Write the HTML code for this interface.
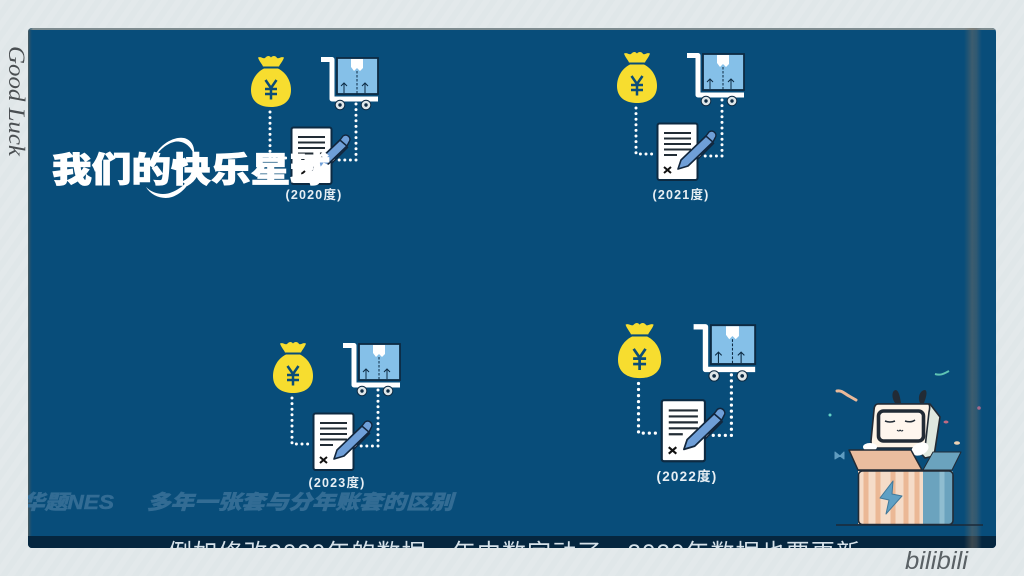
<!DOCTYPE html>
<html><head><meta charset="utf-8"><style>
html,body{margin:0;padding:0;width:1024px;height:576px;overflow:hidden;background:#e1e8ea}
svg{display:block;position:absolute;left:0;top:0}
text{font-family:"Liberation Sans","Noto Sans CJK SC",sans-serif}
</style></head><body>
<svg width="1024" height="576" viewBox="0 0 1024 576" xmlns="http://www.w3.org/2000/svg">
<defs>
<pattern id="tex" width="12" height="12" patternUnits="userSpaceOnUse" patternTransform="rotate(35)">
<rect width="12" height="12" fill="#e0e7e9"/><rect width="6" height="12" fill="#e3e9eb"/>
</pattern>
<linearGradient id="band" x1="0" x2="1" y1="0" y2="0">
<stop offset="0" stop-color="#7a6a58" stop-opacity="0"/><stop offset=".45" stop-color="#7d7060" stop-opacity=".45"/><stop offset=".7" stop-color="#6b6a66" stop-opacity=".4"/><stop offset="1" stop-color="#5a6b78" stop-opacity="0"/>
</linearGradient>
<linearGradient id="ledge" x1="0" x2="1" y1="0" y2="0">
<stop offset="0" stop-color="#4f5a5c"/><stop offset="1" stop-color="#084d7a" stop-opacity="0"/>
</linearGradient>
<clipPath id="panel"><rect x="28" y="28" width="968" height="520" rx="4"/></clipPath>
<g id="icon">
<path d="M19,56V102H40M105,48V104H81" fill="none" stroke="#fff" stroke-width="3" stroke-linecap="round" stroke-dasharray="0 5.600"/>
<path d="M7,1.500C10,0 12,3 14,2C16,0 18,-1 20,1.500C22,-1 25,0 26,2C28,3 30,0 33,1.500C32,5 29,8 28,10.500H12C11,8 8,5 7,1.500Z" fill="#f7dd2f"/>
<path d="M13,12.500H27C36,17 40,26 40,34C40,46 31,51 20,51C9,51 0,46 0,34C0,26 4,17 13,12.500Z" fill="#f7dd2f"/>
<path d="M14.500,24L20,32L25.500,24M20,32V43.500M14,33H26M14,38H26" fill="none" stroke="#0b4d78" stroke-width="2.500"/>
<rect x="86" y="2" width="41" height="36" fill="#85c0e8" stroke="#0d2a42" stroke-width="1.800"/>
<path d="M100,3H112V12L109,15L106,12L103,15L100,11Z" fill="#fff"/>
<path d="M106,15V38" stroke="#0d2a42" stroke-width="1" stroke-dasharray="2.500 1.500"/>
<path d="M93,37V27M90,30L93,27L96,30M114,37V27M111,30L114,27L117,30" fill="none" stroke="#0d2a42" stroke-width="1"/>
<path d="M70,3.500H81V43H127" fill="none" stroke="#fff" stroke-width="5" stroke-linejoin="round"/>
<circle cx="89" cy="49" r="4.800" fill="#dfe6e8" stroke="#0d2a42" stroke-width="1"/><circle cx="89" cy="49" r="1.700" fill="#0d2a42"/>
<circle cx="115" cy="49" r="4.800" fill="#dfe6e8" stroke="#0d2a42" stroke-width="1"/><circle cx="115" cy="49" r="1.700" fill="#0d2a42"/>
<rect x="40.500" y="71.500" width="40" height="56.500" rx="2" fill="#fff" stroke="#0d2a42" stroke-width="2"/>
<path d="M47,81H74M47,86.500H74M47,92H74M47,97.500H74M47,103H60" stroke="#222c35" stroke-width="2"/>
<path d="M47,115L54,121M54,115L47,121" stroke="#111" stroke-width="2"/>
<path d="M61,117L64,108L89,84L96,90L71,114Z" fill="#6f9fd8" stroke="#12263c" stroke-width="1.600" stroke-linejoin="round"/>
<path d="M89,84L92,80C96,77 101,82 98,86L96,90Z" fill="#6f9fd8" stroke="#12263c" stroke-width="1.400"/>
<path d="M81,107L97,91" stroke="#12263c" stroke-width="1.400" fill="none"/>
</g>
</defs>

<rect width="1024" height="576" fill="url(#tex)"/>

<text transform="translate(9,46) rotate(90)" font-size="23" fill="#4a4f52" style="font-family:'Liberation Serif',serif;font-style:italic" textLength="110" lengthAdjust="spacingAndGlyphs">Good Luck</text>
<text x="905" y="569" font-size="25" fill="#5a6165" style="font-family:'Liberation Sans',sans-serif;font-style:italic" textLength="63" lengthAdjust="spacingAndGlyphs">bilibili</text>

<g clip-path="url(#panel)">
<rect x="28" y="28" width="968" height="520" fill="#084d7a"/>
<rect x="28" y="28" width="968" height="2" fill="#7d8b8f"/>
<rect x="28" y="28" width="5" height="520" fill="url(#ledge)"/>
<rect x="28" y="536" width="968" height="12" fill="#05263f"/>

<use href="#icon" transform="translate(251,56)"/>
<use href="#icon" transform="translate(617,52)"/>
<use href="#icon" transform="translate(273,342)"/>
<use href="#icon" transform="translate(618,323) scale(1.08)"/>

<g fill="#e8eff4" font-size="12.500" font-weight="700" text-anchor="middle" letter-spacing="1.200">
<text x="314" y="199">(2020度)</text>
<text x="681" y="199">(2021度)</text>
<text x="337" y="487">(2023度)</text>
<text x="687" y="481" font-size="13.500">(2022度)</text>
</g>

<g fill="#336c94" stroke="#336c94" stroke-width=".5" font-weight="900" font-style="italic" font-size="20">
<text x="22" y="509" textLength="92" lengthAdjust="spacingAndGlyphs">华题NES</text>
<text x="147" y="509" textLength="306" lengthAdjust="spacingAndGlyphs">多年一张套与分年账套的区别</text>
</g>
<text x="168" y="561" font-size="24" font-weight="400" fill="#d6e2ea" textLength="692" lengthAdjust="spacing">例如修改2020年的数据，年中数字动了，2020年数据也要更新</text>

<!-- logo -->
<path d="M153,160C157,146 173,136 184,138C192,140 195,147 194,155C191,146 184,141 176,141.500C167,143 159,150 153,160Z" fill="#fff"/>
<path d="M146,187C151,196 163,200 172,197C183,193 190,184 193,173C188,183 178,191 168,193.500C160,195 152,193 146,187Z" fill="#fff"/>
<text transform="translate(52,182) scale(1,.86)" font-size="40" font-weight="900" fill="#fff" stroke="#fff" stroke-width="1" textLength="278" lengthAdjust="spacingAndGlyphs">我们的快乐星球</text>

<rect x="964" y="28" width="18" height="520" fill="url(#band)"/>

<!-- mascot -->
<g stroke-linejoin="round">
<path d="M895,403C891,397 892,390 896,390C899,391 900,397 901,403ZM920,403C917,396 921,390 925,390C928,391 926,398 924,403Z" fill="#222b35"/>
<path d="M878,404H930L940,417L934,456L925,458Z" fill="#dfe8df" stroke="#222b35" stroke-width="1.600"/>
<path d="M878,404H928C930,404 930,408 929,412L925,448H876C872,448 871,445 871,441L874,410C874,406 876,404 878,404Z" fill="#fdf3e6" stroke="#222b35" stroke-width="1.600"/>
<rect x="878.500" y="411" width="45" height="30" rx="5" fill="#fff6ee" stroke="#222b35" stroke-width="3.600"/>
<path d="M885,421Q890,423 895,421M905,421Q911,423 915,420" fill="none" stroke="#222b35" stroke-width="1.500"/>
<path d="M897,430Q899,432 900,430Q902,432 903,430" fill="none" stroke="#222b35" stroke-width="1"/>
<ellipse cx="870" cy="447" rx="7" ry="4" fill="#fff"/><ellipse cx="920" cy="449" rx="9" ry="6" fill="#fff" transform="rotate(-25 920 449)"/>
<path d="M923,470L933,452H961L952,470Z" fill="#6ba3be" stroke="#222b35" stroke-width="1"/>
<path d="M849,450H911L922,470H858Z" fill="#eabd9f" stroke="#222b35" stroke-width="1.500"/>
<rect x="858" y="471" width="66" height="53" fill="#f5dcc8"/>
<path d="M866,471V524M878,471V524M893,471V524M906,471V524M917,471V524" stroke="#ebb895" stroke-width="5"/>
<path d="M923,471H953V520Q953,524 949,524H923Z" fill="#6ba3be"/>
<path d="M942,471V524" stroke="#8fbdd0" stroke-width="5"/>
<rect x="858.500" y="471" width="94.500" height="53.500" rx="4" fill="none" stroke="#222b35" stroke-width="1.600"/>
<path d="M893,481L880,498L889,500L886,514L902,496L892,494Z" fill="#5fa0c4" stroke="#41799a" stroke-width="1"/>
<path d="M836,525H983" stroke="#1c2a38" stroke-width="1.500"/>
<path d="M837,391C842,390 845,394 849,396L856,400" fill="none" stroke="#eab999" stroke-width="3" stroke-linecap="round"/>
<path d="M935,374C941,376 945,373 949,371" fill="none" stroke="#5fc4b4" stroke-width="2"/>
<path d="M835,452L840,456L835,459ZM844,452L840,456L844,459Z" fill="#5f9cc0" stroke="#5f9cc0"/>
<circle cx="830" cy="415" r="1.500" fill="#63d2c6"/>
<circle cx="979" cy="408" r="1.800" fill="#a56a8a"/>
<ellipse cx="946" cy="422" rx="2.500" ry="1.500" fill="#c06a82"/>
<ellipse cx="957" cy="443" rx="3" ry="1.800" fill="#eed2b4"/>
</g>
</g>
</svg>
</body></html>
